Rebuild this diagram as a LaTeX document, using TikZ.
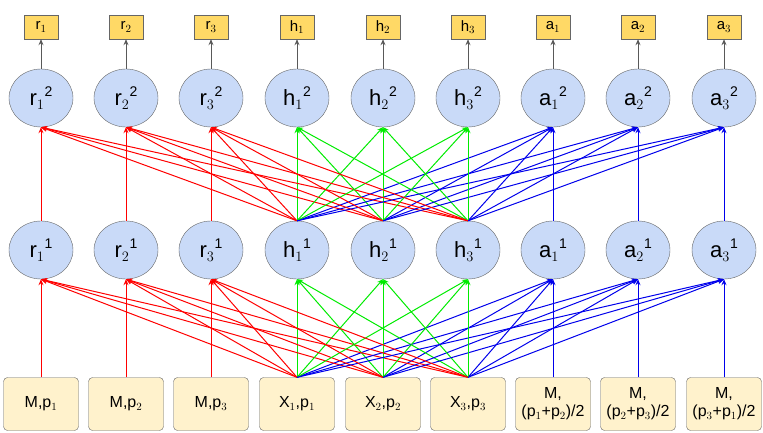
\documentclass[tikz,border=0pt]{standalone}
\usepackage{fontspec}
\setmainfont{Liberation Sans}
\usetikzlibrary{arrows.meta,shapes.geometric}
\begin{document}
\begin{tikzpicture}[x=1pt,y=-1pt,
 outn/.style={draw=gray!80!black,fill=ylw,minimum width=34pt,minimum height=24pt,inner sep=0pt,font=\fontsize{15}{16}\selectfont},
 hid/.style={ellipse,draw=gray!80!black,fill=lav,minimum width=64pt,minimum height=58pt,inner sep=0pt,font=\fontsize{22}{24}\selectfont},
 inp/.style={draw=gray!80!black,fill=crm,rounded corners=4pt,minimum width=75pt,minimum height=53pt,inner sep=0pt,align=center,font=\fontsize{16}{18}\selectfont},
 ar/.style={-{Stealth[length=6pt,width=5pt]},line width=1pt}]
\definecolor{ylw}{RGB}{255,217,102}\definecolor{lav}{RGB}{201,218,248}\definecolor{crm}{RGB}{255,242,204}
\definecolor{rr}{RGB}{255,0,0}\definecolor{gg}{RGB}{0,235,0}\definecolor{bb}{RGB}{0,0,235}
\useasboundingbox (0,0) rectangle (763,433);
\def\xs{{41,126,211,297,383,468,553,638,724}}
\foreach \n/\l [count=\i from 0] in {r1/r,r2/r,r3/r,h1/h,h2/h,h3/h,a1/a,a2/a,a3/a}{
 \pgfmathsetmacro\xx{\xs[\i]}
 \pgfmathtruncatemacro\k{mod(\i,3)+1}
 \node[outn] (o\n) at (\xx,27) {\l$_{\k}$};
 \node[hid] (t\n) at (\xx,98) {\l$_{\k}$\raisebox{0.8ex}{\fontsize{14}{14}\selectfont 2}};
 \node[hid] (m\n) at (\xx,250) {\l$_{\k}$\raisebox{0.8ex}{\fontsize{14}{14}\selectfont 1}};
 \draw[ar,gray!70!black] (t\n) -- (o\n);
}
\node[inp] (i1) at (41,404) {M,p$_1$};
\node[inp] (i2) at (126,404) {M,p$_2$};
\node[inp] (i3) at (211,404) {M,p$_3$};
\node[inp] (x1) at (297,404) {X$_1$,p$_1$};
\node[inp] (x2) at (383,404) {X$_2$,p$_2$};
\node[inp] (x3) at (468,404) {X$_3$,p$_3$};
\node[inp] (j1) at (553,404) {M,\\(p$_1$+p$_2$)/2};
\node[inp] (j2) at (638,404) {M,\\(p$_2$+p$_3$)/2};
\node[inp] (j3) at (724,404) {M,\\(p$_3$+p$_1$)/2};
\foreach \k in {1,2,3}{
 \draw[ar,rr] (i\k.north) -- (mr\k.south);
 \draw[ar,bb] (j\k.north) -- (ma\k.south);
 \draw[ar,rr] (mr\k.north) -- (tr\k.south);
 \draw[ar,bb] (ma\k.north) -- (ta\k.south);
 \foreach \j in {1,2,3}{
  \draw[ar,rr] (x\j.north) -- (mr\k.south);
  \draw[ar,gg] (x\j.north) -- (mh\k.south);
  \draw[ar,bb] (x\j.north) -- (ma\k.south);
  \draw[ar,rr] (mh\j.north) -- (tr\k.south);
  \draw[ar,gg] (mh\j.north) -- (th\k.south);
  \draw[ar,bb] (mh\j.north) -- (ta\k.south);
 }
}
\end{tikzpicture}
\end{document}
